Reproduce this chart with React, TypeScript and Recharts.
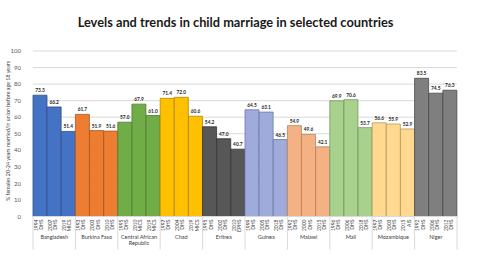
import React from "react";
import { BarChart, Bar, XAxis, YAxis, CartesianGrid, Cell, LabelList } from "recharts";

const countries = ["Bangladesh", "Burkina Faso", "Central African Republic", "Chad", "Eritrea", "Guinea", "Malawi", "Mali", "Mozambique", "Niger"];
const surveys = [
  ["DHS 1994", "DHS 2007", "MICS 2019"],
  ["DHS 1993", "DHS 2003", "DHS 2010"],
  ["DHS 1995", "MICS 2010", "MICS 2019"],
  ["DHS 1997", "DHS 2004", "MICS 2019"],
  ["DHS 1995", "DHS 2002", "EPHS 2010"],
  ["DHS 1999", "DHS 2005", "DHS 2018"],
  ["DHS 1992", "DHS 2000", "DHS 2015"],
  ["DHS 1996", "DHS 2006", "DHS 2018"],
  ["DHS 1997", "DHS 2003", "AIS 2015"],
  ["DHS 1992", "DHS 2006", "DHS 2012"],
];
const values = [
  [73.3, 66.2, 51.4],
  [61.7, 51.9, 51.6],
  [57.0, 67.9, 61.0],
  [71.4, 72.0, 60.6],
  [54.2, 47.0, 40.7],
  [64.5, 63.1, 46.5],
  [54.9, 49.6, 42.1],
  [69.9, 70.6, 53.7],
  [56.6, 55.9, 52.9],
  [83.5, 74.5, 76.3],
];
const fills = ["#4472C4", "#ED7D31", "#70AD47", "#FFC000", "#575757", "#9FABDB", "#F4B183", "#A9D18E", "#FFD98F", "#7F7F7F"];
const strokes = ["#2F4F8A", "#A9561F", "#4E7A31", "#B38700", "#333333", "#6C78A8", "#B9835C", "#75985F", "#B59A62", "#4A4A4A"];
const yTicks = [0, 10, 20, 30, 40, 50, 60, 70, 80, 90, 100];

const data = countries.flatMap((c, ci) =>
  surveys[ci].map((s, si) => ({
    key: `${ci}-${si}`,
    country: c,
    survey: s,
    value: values[ci][si],
    ci,
  }))
);

const FONT = "Lato, 'Liberation Sans', sans-serif";

const SurveyTick = (props: any) => {
  const { x, y, payload, index } = props;
  const d = data[index];
  if (!d) return null;
  const half = payload && typeof payload.offset === "number" && payload.offset > 0 ? payload.offset : 7;
  const [name, year] = d.survey.split(" ");
  const si = index % 3;
  const countryLines = d.country === "Central African Republic" ? ["Central African", "Republic"] : [d.country];
  return (
    <g>
      <text transform={`translate(${x - 2.2},${y + 3}) rotate(-90)`} textAnchor="end" fontSize={5} fill="#404040" fontFamily={FONT}>
        {year}
      </text>
      <text transform={`translate(${x + 3},${y + 3}) rotate(-90)`} textAnchor="end" fontSize={5} fill="#404040" fontFamily={FONT}>
        {name}
      </text>
      {si === 0 && <line x1={x - half} x2={x - half} y1={y} y2={y + 33} stroke="#d9d9d9" strokeWidth={1} />}
      {index === data.length - 1 && <line x1={x + half} x2={x + half} y1={y} y2={y + 33} stroke="#d9d9d9" strokeWidth={1} />}
      {si === 1 &&
        countryLines.map((t, i) => (
          <text key={i} x={x} y={y + 22 + i * 6.5} textAnchor="middle" fontSize={5.5} fill="#404040" fontFamily={FONT}>
            {t}
          </text>
        ))}
    </g>
  );
};

export default function App() {
  return (
    <div style={{ position: "absolute", left: 0, top: 0, width: 479, height: 272, background: "#fff" }}>
      <div
        style={{
          position: "absolute",
          left: 0,
          width: 471,
          top: 14,
          textAlign: "center",
          fontFamily: FONT,
          fontWeight: 700,
          fontSize: 12.8,
          color: "#1a1a1a",
        }}
      >
        Levels and trends in child marriage in selected countries
      </div>
      <div
        style={{
          position: "absolute",
          left: 8,
          top: 131,
          transform: "translate(-50%, -50%) rotate(-90deg)",
          whiteSpace: "nowrap",
          fontFamily: FONT,
          fontSize: 5.3,
          color: "#404040",
        }}
      >
        % females 20-24 years married/in union before age 18 years
      </div>
      <BarChart
        width={479}
        height={272}
        data={data}
        margin={{ top: 51, right: 22, bottom: 0, left: 0 }}
        barCategoryGap={0}
        barGap={0}
        style={{ position: "absolute", left: 0, top: 0 }}
      >
        <CartesianGrid vertical={false} stroke="#d9d9d9" strokeWidth={1} />
        <YAxis
          domain={[0, 100]}
          ticks={yTicks}
          width={33}
          axisLine={false}
          tickLine={false}
          tickMargin={6}
          tick={{ fontSize: 6, fill: "#595959", fontFamily: FONT }}
          interval={0}
        />
        <XAxis
          dataKey="key"
          height={55.5}
          interval={0}
          tickSize={0}
          tickMargin={0}
          axisLine={{ stroke: "#d9d9d9" }}
          tick={<SurveyTick />}
        />
        <Bar dataKey="value" isAnimationActive={false}>
          {data.map((d, i) => (
            <Cell key={i} fill={fills[d.ci]} stroke={strokes[d.ci]} strokeWidth={0.8} />
          ))}
          <LabelList
            dataKey="value"
            position="top"
            offset={3}
            formatter={(v: any) => Number(v).toFixed(1)}
            style={{ fontSize: 4.8, fill: "#262626", fontFamily: FONT, fontWeight: 700 }}
          />
        </Bar>
      </BarChart>
    </div>
  );
}
